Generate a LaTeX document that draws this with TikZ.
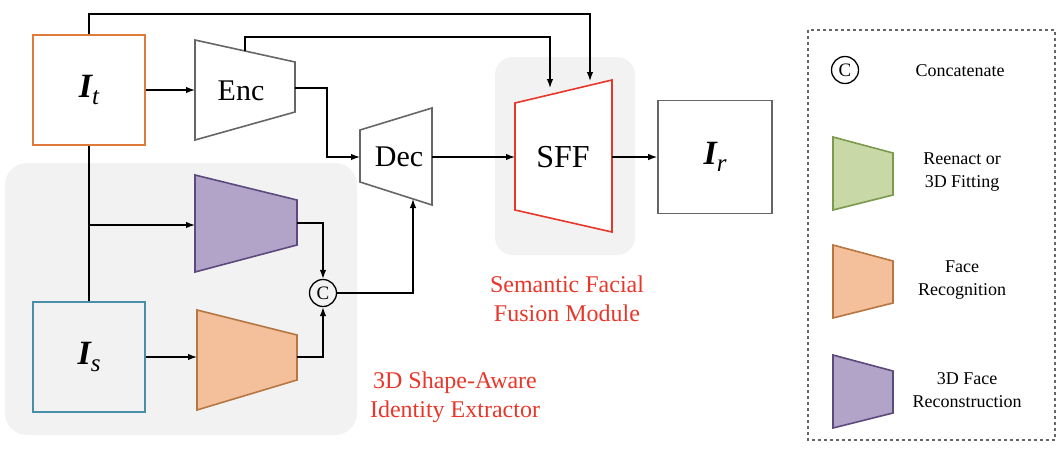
\documentclass[tikz,border=0pt]{standalone}
\usepackage{fontspec}
\setmainfont{Liberation Serif}
\usetikzlibrary{arrows.meta}
\definecolor{ored}{HTML}{E07A3A}
\definecolor{teal2}{HTML}{4A8FA8}
\definecolor{purf}{HTML}{B2A3C8}
\definecolor{purd}{HTML}{5C4A7E}
\definecolor{orf}{HTML}{F3C09B}
\definecolor{ord}{HTML}{B67742}
\definecolor{grf}{HTML}{C8D8A6}
\definecolor{grd}{HTML}{7C9A4E}
\definecolor{sred}{HTML}{E8372A}
\definecolor{bg}{HTML}{F2F2F2}
\newcommand{\bvar}[2]{{\fontsize{34}{36}\selectfont\bfseries\itshape #1}\raisebox{-7pt}{\fontsize{25}{27}\selectfont\itshape #2}}
\begin{document}
\begin{tikzpicture}[x=1pt,y=-1pt,
 arr/.style={-{Latex[length=9pt,width=6.5pt]},line width=1.3pt},
 ln/.style={line width=1.3pt},
 box/.style={draw,line width=1.6pt,minimum width=112pt,minimum height=110pt,inner sep=0},
 trap/.style={line width=1.6pt},
 lbl/.style={font=\fontsize{24}{29}\selectfont,text=sred,align=center},
 leg/.style={font=\fontsize{18}{23}\selectfont,align=center}]
\useasboundingbox (0,0) rectangle (1060,448);
\fill[bg,rounded corners=22pt] (5,163) rectangle (357,435);
\fill[bg,rounded corners=18pt] (495,57) rectangle (635,255);
% boxes
\node[box,draw=ored] (It) at (89,90) {\bvar{I}{t}};
\node[box,draw=teal2] (Is) at (89,357) {\bvar{I}{s}};
\node[box,draw=black!60,minimum width=114pt,minimum height=113pt] (Ir) at (715,157) {\bvar{I}{r}};
% trapezoids
\draw[trap,draw=black!60,fill=white] (195,40) -- (295,62) -- (295,112) -- (195,140) -- cycle;
\node[font=\fontsize{30}{32}\selectfont] (Enc) at (241,91) {Enc};
\draw[trap,draw=black!60,fill=white] (360,130) -- (432,108) -- (432,205) -- (360,182) -- cycle;
\node[font=\fontsize{30}{32}\selectfont] (Dec) at (399,157) {Dec};
\draw[trap,draw=purd,fill=purf] (195,175) -- (297,200) -- (297,245) -- (195,272) -- cycle;
\draw[trap,draw=ord,fill=orf] (197,310) -- (297,335) -- (297,380) -- (197,410) -- cycle;
\draw[trap,draw=sred,fill=white] (515,103) -- (612,80) -- (612,232) -- (515,210) -- cycle;
\node[font=\fontsize{32}{34}\selectfont] (SFF) at (563,157) {SFF};
\node[draw,circle,line width=1.3pt,minimum size=27pt,inner sep=0,font=\fontsize{19}{21}\selectfont] (C) at (323,293) {C};
% coordinates
\coordinate (encL) at (195,90); \coordinate (encR) at (295,88); \coordinate (encT) at (245,51);
\coordinate (decL) at (360,157); \coordinate (decR) at (432,157); \coordinate (decB) at (413,199);
\coordinate (sffL) at (515,157); \coordinate (sffR) at (612,157);
\coordinate (sffT1) at (550,88); \coordinate (sffT2) at (590,81);
\coordinate (purL) at (195,225); \coordinate (purR) at (297,223);
\coordinate (orL) at (197,357); \coordinate (orR) at (297,357);
% connectors
\draw[arr] (It.east |- encL) -- (encL);
\draw[arr] (It.north) -- (89,14) -| (sffT2);
\draw[arr] (encT) -- (245,37) -| (sffT1);
\draw[arr] (encR) -| (327,157) -- (decL);
\draw[arr] (decR) -- (sffL);
\draw[arr] (sffR) -- (Ir.west |- sffR);
\draw[arr] (C.east) -| (decB);
\draw[ln] (It.south) -- (Is.north);
\draw[arr] (89,225) -- (purL);
\draw[arr] (purR) -| (C.north);
\draw[arr] (Is.east |- orL) -- (orL);
\draw[arr] (orR) -| (C.south);
% labels
\node[lbl] (l1) at (455,397) {3D Shape-Aware\\Identity Extractor};
\node[lbl] (l2) at (567,299) {Semantic Facial\\Fusion Module};
% legend
\draw[dashed,draw=black!60,line width=1.3pt] (808,30) rectangle (1055,440);
\node[draw,circle,line width=1.3pt,minimum size=27pt,inner sep=0,font=\fontsize{19}{21}\selectfont] (LC) at (845,70) {C};
\node[leg] (t1) at (960,71) {Concatenate};
\draw[trap,draw=grd,fill=grf] (833,137) -- (893,153) -- (893,195) -- (833,210) -- cycle;
\node[leg] (t2) at (962,172) {Reenact or\\3D Fitting};
\draw[trap,draw=ord,fill=orf] (833,245) -- (893,261) -- (893,303) -- (833,318) -- cycle;
\node[leg] (t3) at (962,280) {Face\\Recognition};
\draw[trap,draw=purd,fill=purf] (833,355) -- (893,371) -- (893,413) -- (833,428) -- cycle;
\node[leg] (t4) at (967,390) {3D Face\\Reconstruction};
\end{tikzpicture}
\end{document}
